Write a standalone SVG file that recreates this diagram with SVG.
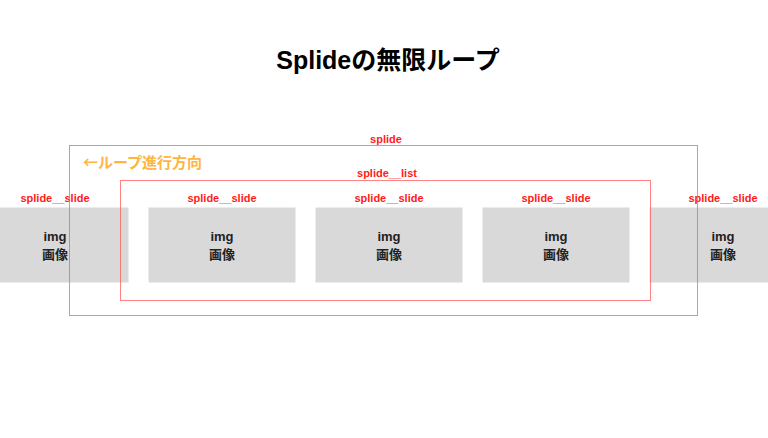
<svg xmlns="http://www.w3.org/2000/svg" width="768" height="438" viewBox="0 0 768 438">
<style>
.slide{fill:#D9D9D9}
.lbl{font-family:"Liberation Sans","Noto Sans CJK JP",sans-serif;font-weight:bold;font-size:11px;fill:#FF1A1A;text-anchor:middle}
.img{font-family:"Liberation Sans","Noto Sans CJK JP",sans-serif;font-weight:bold;font-size:13px;fill:#222;text-anchor:middle}
.frame{fill:none;stroke:#FF5A5A;stroke-opacity:0.75;stroke-width:1}
</style>
<rect width="768" height="438" fill="#FFFFFF"/>
<text x="388" y="69" font-family="Liberation Sans,'Noto Sans CJK JP',sans-serif" font-weight="bold" font-size="25" fill="#000" text-anchor="middle">Splideの無限ループ</text>
<g id="slide1">
<rect class="slide" x="-18.5" y="207.5" width="147" height="75"/>
<text class="lbl" x="55" y="202">splide__slide</text>
<text class="img" x="55" y="241">img</text>
<text class="img" x="55" y="259">画像</text>
</g>
<g id="slide2">
<rect class="slide" x="148.5" y="207.5" width="147" height="75"/>
<text class="lbl" x="222" y="202">splide__slide</text>
<text class="img" x="222" y="241">img</text>
<text class="img" x="222" y="259">画像</text>
</g>
<g id="slide3">
<rect class="slide" x="315.5" y="207.5" width="147" height="75"/>
<text class="lbl" x="389" y="202">splide__slide</text>
<text class="img" x="389" y="241">img</text>
<text class="img" x="389" y="259">画像</text>
</g>
<g id="slide4">
<rect class="slide" x="482.5" y="207.5" width="147" height="75"/>
<text class="lbl" x="556" y="202">splide__slide</text>
<text class="img" x="556" y="241">img</text>
<text class="img" x="556" y="259">画像</text>
</g>
<g id="slide5">
<rect class="slide" x="649.5" y="207.5" width="147" height="75"/>
<text class="lbl" x="723" y="202">splide__slide</text>
<text class="img" x="723" y="241">img</text>
<text class="img" x="723" y="259">画像</text>
</g>
<g id="splide">
<rect class="frame" x="69.5" y="145.5" width="628" height="170"/>
<text class="lbl" x="386" y="143">splide</text>
<text x="83" y="168" font-family="'Noto Sans CJK JP',sans-serif" font-weight="bold" font-size="15" fill="#FFB53F">←ループ進行方向</text>
</g>
<g id="splide_list">
<rect class="frame" x="120.5" y="180.5" width="530" height="120"/>
<text class="lbl" x="387" y="177">splide__list</text>
</g>
<g id="connectors"></g>
</svg>
